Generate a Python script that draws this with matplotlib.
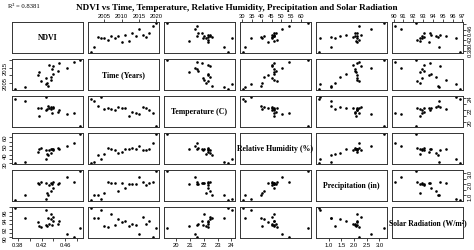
import matplotlib
matplotlib.use("Agg")
import matplotlib.pyplot as plt

# --- Données (une ligne par année) ---
annees = [2001, 2002, 2003, 2004, 2005, 2006, 2007, 2008, 2009, 2010,
          2011, 2012, 2013, 2014, 2015, 2016, 2017, 2018, 2019, 2020]
ndvi = [0.375, 0.392, 0.431, 0.428, 0.430, 0.419, 0.436, 0.427, 0.436, 0.414,
        0.440, 0.415, 0.448, 0.437, 0.462, 0.440, 0.433, 0.449, 0.475, 0.485]
temperature = [23.74, 23.45, 22.59, 24.07, 22.16, 22.31, 22.02, 21.97, 22.45, 22.31,
               22.31, 20.92, 21.59, 21.49, 21.35, 22.45, 22.31, 21.88, 21.49, 19.30]
humidite = [30.5, 31.5, 39.7, 34.5, 40.4, 48.0, 46.3, 45.0, 41.4, 43.0,
            46.3, 46.3, 47.3, 46.3, 50.3, 45.0, 45.0, 46.3, 53.6, 63.5]
precipitation = [0.60, 1.07, 1.07, 0.65, 1.25, 2.19, 2.13, 2.13, 1.43, 2.13,
                 1.67, 2.08, 2.03, 2.03, 2.68, 2.26, 1.95, 2.13, 2.19, 3.20]
rayonnement = [96.80, 94.59, 94.52, 96.40, 92.65, 92.38, 95.33, 92.85, 94.32, 93.58,
               93.79, 92.65, 93.05, 92.85, 90.70, 94.72, 93.05, 93.72, 90.10, 92.24]

noms = ["NDVI", "Time (Years)", "Temperature (C)", "Relative Humidity (%)",
        "Precipitation (in)", "Solar Radiation (W/m\u00b2)"]
variables = [ndvi, annees, temperature, humidite, precipitation, rayonnement]

# graduations : (positions, libellés affichés)
ticks = [
    ([0.38, 0.40, 0.42, 0.44, 0.46, 0.48], ["0.38", "", "0.42", "", "0.46", ""]),
    ([2005, 2010, 2015, 2020], ["2005", "2010", "2015", "2020"]),
    ([20, 21, 22, 23, 24], ["20", "21", "22", "23", "24"]),
    ([30, 35, 40, 45, 50, 55, 60], ["30", "35", "40", "45", "50", "55", "60"]),
    ([1.0, 1.5, 2.0, 2.5, 3.0], ["1.0", "1.5", "2.0", "2.5", "3.0"]),
    ([90, 91, 92, 93, 94, 95, 96, 97], ["90", "91", "92", "93", "94", "95", "96", "97"]),
]
# libellés gardés sur les axes verticaux (moins de place)
ticks_vert = [
    ["0.38", "", "0.42", "", "0.46", ""],
    ["2005", "", "2015", ""],
    ["20", "", "22", "", "24"],
    ["30", "", "40", "", "50", "", "60"],
    ["1.0", "", "2.0", "", "3.0"],
    ["90", "", "92", "", "94", "", "96", ""],
]

titre = "NDVI vs Time, Temperature, Relative Humidity, Precipitation and Solar Radiation"
r2 = "R\u00b2 = 0.8381"

W, H = 474, 251
fig = plt.figure(figsize=(W / 100, H / 100), dpi=100)
serif = ["Liberation Serif", "DejaVu Serif"]
sans = ["Liberation Sans", "DejaVu Sans"]


def limites(v):
    lo, hi = min(v), max(v)
    pad = 0.04 * (hi - lo)
    return lo - pad, hi + pad


n = len(variables)
for i in range(n):
    for j in range(n):
        x0 = 12 + 76 * j
        y0 = 23 + 37 * i
        ax = fig.add_axes([x0 / W, 1 - (y0 + 31) / H, 71 / W, 31 / H])
        for s in ax.spines.values():
            s.set_linewidth(0.7)
            s.set_color("#333333")
        ax.set_xlim(limites(variables[j]))
        ax.set_ylim(limites(variables[i]))
        ax.tick_params(axis="both", which="both", length=2.2, width=0.5, pad=1,
                       labelsize=4.2, direction="out",
                       bottom=False, top=False, left=False, right=False,
                       labelbottom=False, labeltop=False, labelleft=False, labelright=False)
        if i == j:
            ax.set_xticks([])
            ax.set_yticks([])
            ax.text(0.5, 0.5, noms[i], transform=ax.transAxes, ha="center", va="center",
                    fontsize=5.6, fontweight="bold", family=serif)
        else:
            ax.scatter(variables[j], variables[i], s=3.5, color="black", linewidths=0)
            ax.set_xticks(ticks[j][0])
            ax.set_yticks(ticks[i][0])
            ax.set_xticklabels(ticks[j][1], family=sans)
            ax.set_yticklabels(ticks_vert[i], family=sans, rotation=90, va="center")
        # axes extérieurs, en alternance comme pairs() de R
        if i == 0 and j % 2 == 1:
            ax.set_xticks(ticks[j][0])
            ax.set_xticklabels(ticks[j][1], family=sans)
            ax.tick_params(axis="x", top=True, labeltop=True)
        if i == n - 1 and j % 2 == 0:
            ax.set_xticks(ticks[j][0])
            ax.set_xticklabels(ticks[j][1], family=sans)
            ax.tick_params(axis="x", bottom=True, labelbottom=True)
        if j == 0 and i % 2 == 1:
            ax.set_yticks(ticks[i][0])
            ax.set_yticklabels(ticks_vert[i], family=sans, rotation=90, va="center")
            ax.tick_params(axis="y", left=True, labelleft=True)
        if j == n - 1 and i % 2 == 0:
            ax.set_yticks(ticks[i][0])
            ax.set_yticklabels(ticks_vert[i], family=sans, rotation=90, va="center")
            ax.tick_params(axis="y", right=True, labelright=True)

fig.text(237 / W, 1 - 8 / H, titre, ha="center", va="center",
         fontsize=6.6, fontweight="bold", family=serif)
fig.text(8 / W, 1 - 7 / H, r2, ha="left", va="center", fontsize=4.8, family=serif)

fig.savefig("out.png", dpi=100, facecolor="white")
